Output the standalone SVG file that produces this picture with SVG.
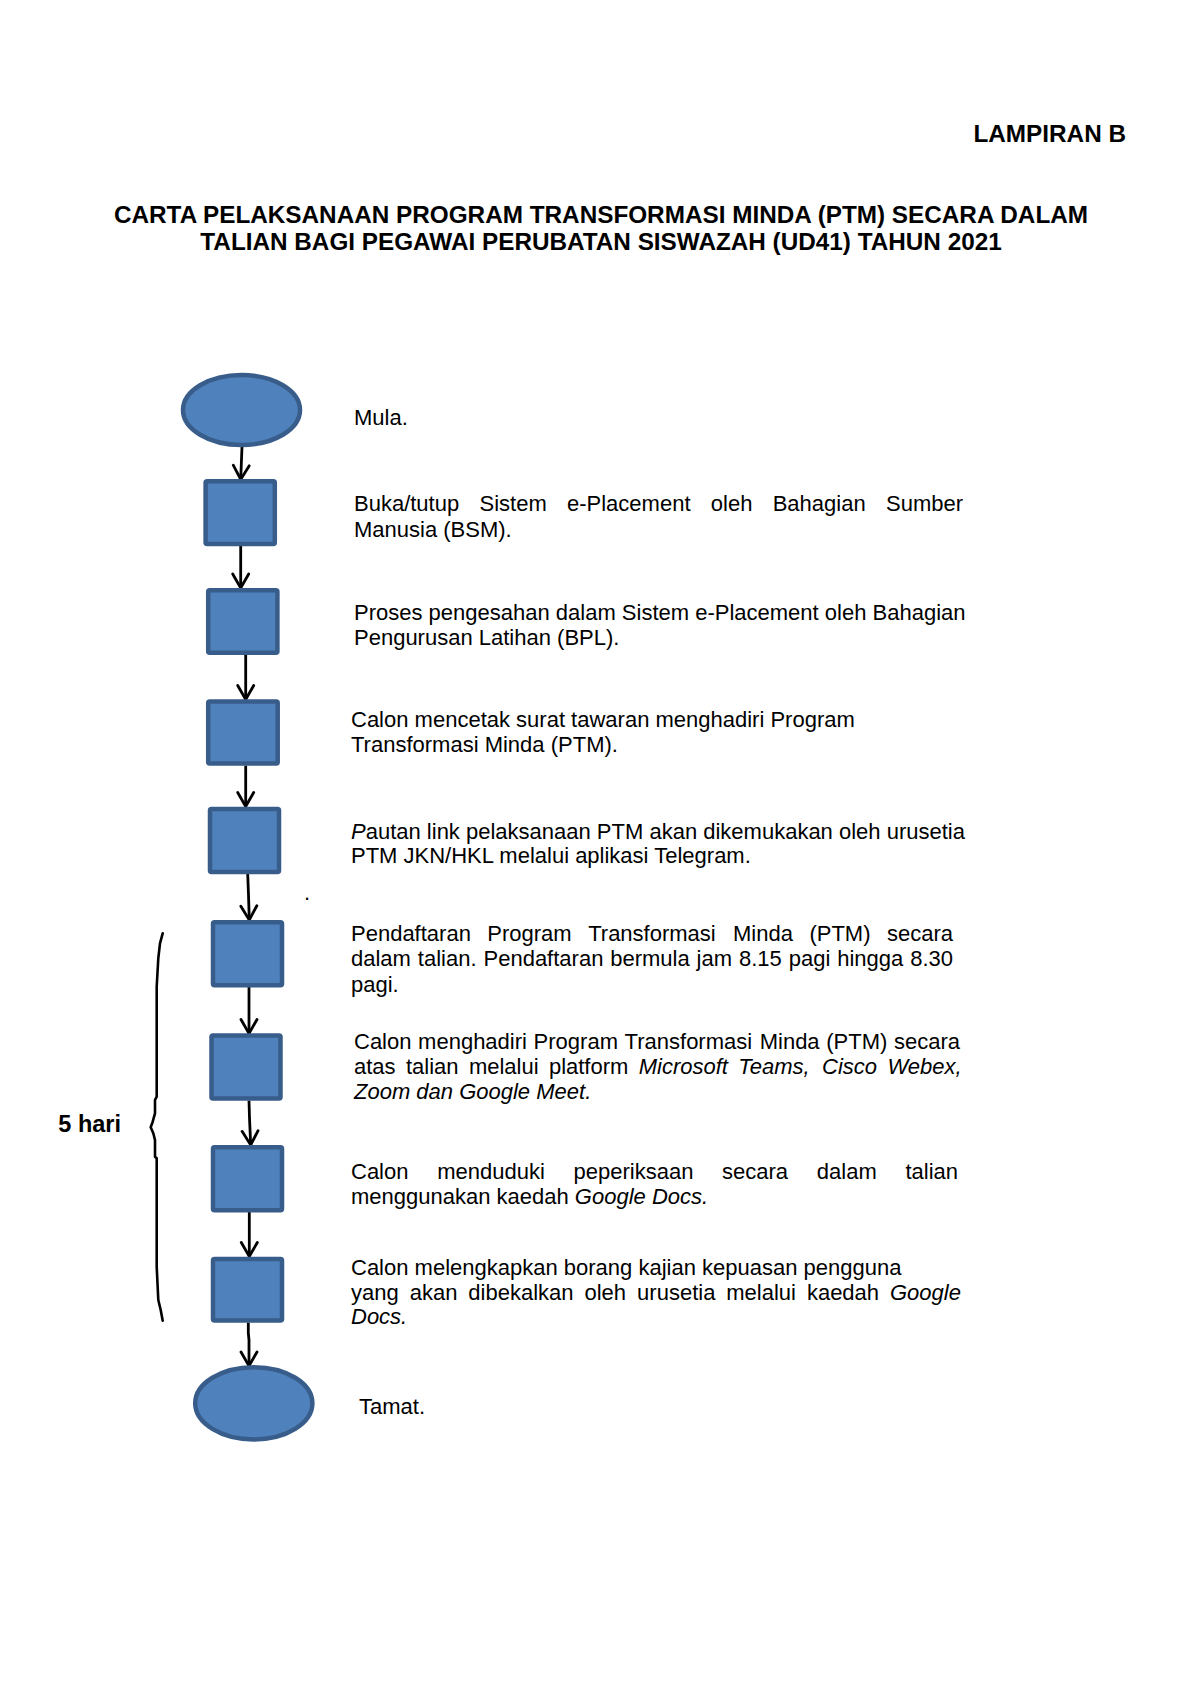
<svg xmlns="http://www.w3.org/2000/svg" width="1200" height="1696" viewBox="0 0 1200 1696">
<style>
.t{font-family:"Liberation Sans",Arial,Helvetica,sans-serif;font-size:22px;fill:#000}
.i{font-style:italic}
.h{font-family:"Liberation Sans",Arial,Helvetica,sans-serif;font-size:24.3px;font-weight:bold;fill:#000}
.shape{fill:#4F81BD;stroke:#385D8A;stroke-width:4.5}
.conn{fill:none;stroke:#000;stroke-width:2.8;marker-end:url(#arr)}
.brace{fill:none;stroke:#000;stroke-width:2.6;stroke-linejoin:round;stroke-linecap:round}
</style>
<defs>
<marker id="arr" viewBox="-17 -10 19 20" refX="0" refY="0" markerWidth="19" markerHeight="20" markerUnits="userSpaceOnUse" orient="auto" overflow="visible">
<path d="M -14 -8 L 0 0 L -14 8" fill="none" stroke="#000" stroke-width="2.8" stroke-linecap="round" stroke-linejoin="miter"/>
</marker>
</defs>
<rect width="1200" height="1696" fill="#fff"/>

<g id="header">
<text class="h" x="1126" y="141.7" text-anchor="end">LAMPIRAN B</text>
<text class="h" x="601" y="223" text-anchor="middle">CARTA PELAKSANAAN PROGRAM TRANSFORMASI MINDA (PTM) SECARA DALAM</text>
<text class="h" x="601" y="249.5" text-anchor="middle">TALIAN BAGI PEGAWAI PERUBATAN SISWAZAH (UD41) TAHUN 2021</text>
</g>

<g id="connectors">
<path class="conn" d="M 242 447 L 240.7 479.5"/>
<path class="conn" d="M 240.7 546 L 240.7 588"/>
<path class="conn" d="M 245.7 655 L 245.7 699.5"/>
<path class="conn" d="M 245.7 765.5 L 245.7 806.5"/>
<path class="conn" d="M 247.7 874 L 248.5 895 L 249.3 920"/>
<path class="conn" d="M 249 987 L 249 1033.5"/>
<path class="conn" d="M 249 1100.5 L 249.5 1118 L 250.7 1145"/>
<path class="conn" d="M 249.3 1207 L 249.3 1256.5"/>
<path class="conn" d="M 248.3 1322.5 L 248.3 1333 L 249 1340 L 249 1366"/>
</g>

<g id="node-start">
<ellipse class="shape" cx="241.5" cy="410" rx="58.5" ry="35"/>
<text class="t" x="354" y="425">Mula.</text>
</g>

<g id="node-1">
<rect class="shape" x="205.6" y="481.3" width="69.2" height="62.8" rx="1.5"/>
<text class="t" y="510.5"><tspan x="354">Buka/tutup</tspan><tspan x="479.5">Sistem</tspan><tspan x="567">e-Placement</tspan><tspan x="710.8">oleh</tspan><tspan x="772.7">Bahagian</tspan><tspan x="886">Sumber</tspan></text>
<text class="t" x="354" y="536.5">Manusia (BSM).</text>
</g>

<g id="node-2">
<rect class="shape" x="208.2" y="590.2" width="69.2" height="62.5" rx="1.5"/>
<text class="t" x="354" y="620">Proses pengesahan dalam Sistem e-Placement oleh Bahagian</text>
<text class="t" x="354" y="645">Pengurusan Latihan (BPL).</text>
</g>

<g id="node-3">
<rect class="shape" x="208.2" y="701.5" width="69.5" height="62" rx="1.5"/>
<text class="t" x="351" y="727">Calon mencetak surat tawaran menghadiri Program</text>
<text class="t" x="351" y="752">Transformasi Minda (PTM).</text>
</g>

<g id="node-4">
<rect class="shape" x="210" y="809" width="69" height="63" rx="1.5"/>
<text class="t" x="351" y="838.5"><tspan class="i">P</tspan>autan link pelaksanaan PTM akan dikemukakan oleh urusetia</text>
<text class="t" x="351" y="863.4">PTM JKN/HKL melalui aplikasi Telegram.</text>
<text class="t" x="304" y="900">.</text>
</g>

<g id="node-5">
<rect class="shape" x="213" y="922.2" width="69" height="63" rx="1.5"/>
<text class="t" y="941.3"><tspan x="351">Pendaftaran</tspan><tspan x="487.3">Program</tspan><tspan x="588.2">Transformasi</tspan><tspan x="733">Minda</tspan><tspan x="809.4">(PTM)</tspan><tspan x="887">secara</tspan></text>
<text class="t" y="966.2"><tspan x="351">dalam</tspan><tspan x="417.8">talian.</tspan><tspan x="483.5">Pendaftaran</tspan><tspan x="610.2">bermula</tspan><tspan x="696.6">jam</tspan><tspan x="739">8.15</tspan><tspan x="788.7">pagi</tspan><tspan x="837.2">hingga</tspan><tspan x="910.2">8.30</tspan></text>
<text class="t" x="351" y="992">pagi.</text>
</g>

<g id="node-6">
<rect class="shape" x="211.5" y="1035.5" width="69" height="63" rx="1.5"/>
<text class="t" y="1048.5"><tspan x="354">Calon</tspan><tspan x="418.1">menghadiri</tspan><tspan x="533.6">Program</tspan><tspan x="624.6">Transformasi</tspan><tspan x="759.7">Minda</tspan><tspan x="826.2">(PTM)</tspan><tspan x="894">secara</tspan></text>
<text class="t" y="1074.4"><tspan x="354">atas</tspan><tspan x="405.9">talian</tspan><tspan x="468.9">melalui</tspan><tspan x="548.9">platform</tspan><tspan class="i" x="638.7">Microsoft</tspan><tspan class="i" x="738.3">Teams,</tspan><tspan class="i" x="822">Cisco</tspan><tspan class="i" x="887.4">Webex,</tspan></text>
<text class="t i" x="354" y="1099.3">Zoom dan Google Meet.</text>
</g>

<g id="node-7">
<rect class="shape" x="213" y="1147.2" width="69" height="63" rx="1.5"/>
<text class="t" y="1179.4"><tspan x="351">Calon</tspan><tspan x="437.2">menduduki</tspan><tspan x="573.5">peperiksaan</tspan><tspan x="722">secara</tspan><tspan x="816.8">dalam</tspan><tspan x="905.4">talian</tspan></text>
<text class="t" x="351" y="1204.3">menggunakan kaedah <tspan class="i">Google Docs.</tspan></text>
</g>

<g id="node-8">
<rect class="shape" x="213" y="1259" width="69" height="61.5" rx="1.5"/>
<text class="t" x="351" y="1274.6">Calon melengkapkan borang kajian kepuasan pengguna</text>
<text class="t" y="1299.5"><tspan x="351">yang</tspan><tspan x="409.7">akan</tspan><tspan x="468.3">dibekalkan</tspan><tspan x="584.5">oleh</tspan><tspan x="637.1">urusetia</tspan><tspan x="726.3">melalui</tspan><tspan x="806.9">kaedah</tspan><tspan class="i" x="890">Google</tspan></text>
<text class="t i" x="351" y="1324.4">Docs.</text>
</g>

<g id="node-end">
<ellipse class="shape" cx="253.8" cy="1403.3" rx="58.6" ry="36.1"/>
<text class="t" x="359" y="1414">Tamat.</text>
</g>

<g id="brace-5-hari">
<path class="brace" d="M 162.7 933.3 L 160 943.3 L 158.3 958.3 L 156.7 986.7 L 156.7 1096.7 L 155 1100 L 155 1113.3 L 152.7 1121.7 L 150.7 1127.3 L 153.3 1133.3 L 155 1140 L 155 1156.7 L 156.7 1158.3 L 156.7 1266.7 L 158.3 1300 L 160.7 1310 L 162.7 1320.7"/>
<text class="h" x="58.3" y="1131.7" style="font-size:23.5px">5 hari</text>
</g>
</svg>
